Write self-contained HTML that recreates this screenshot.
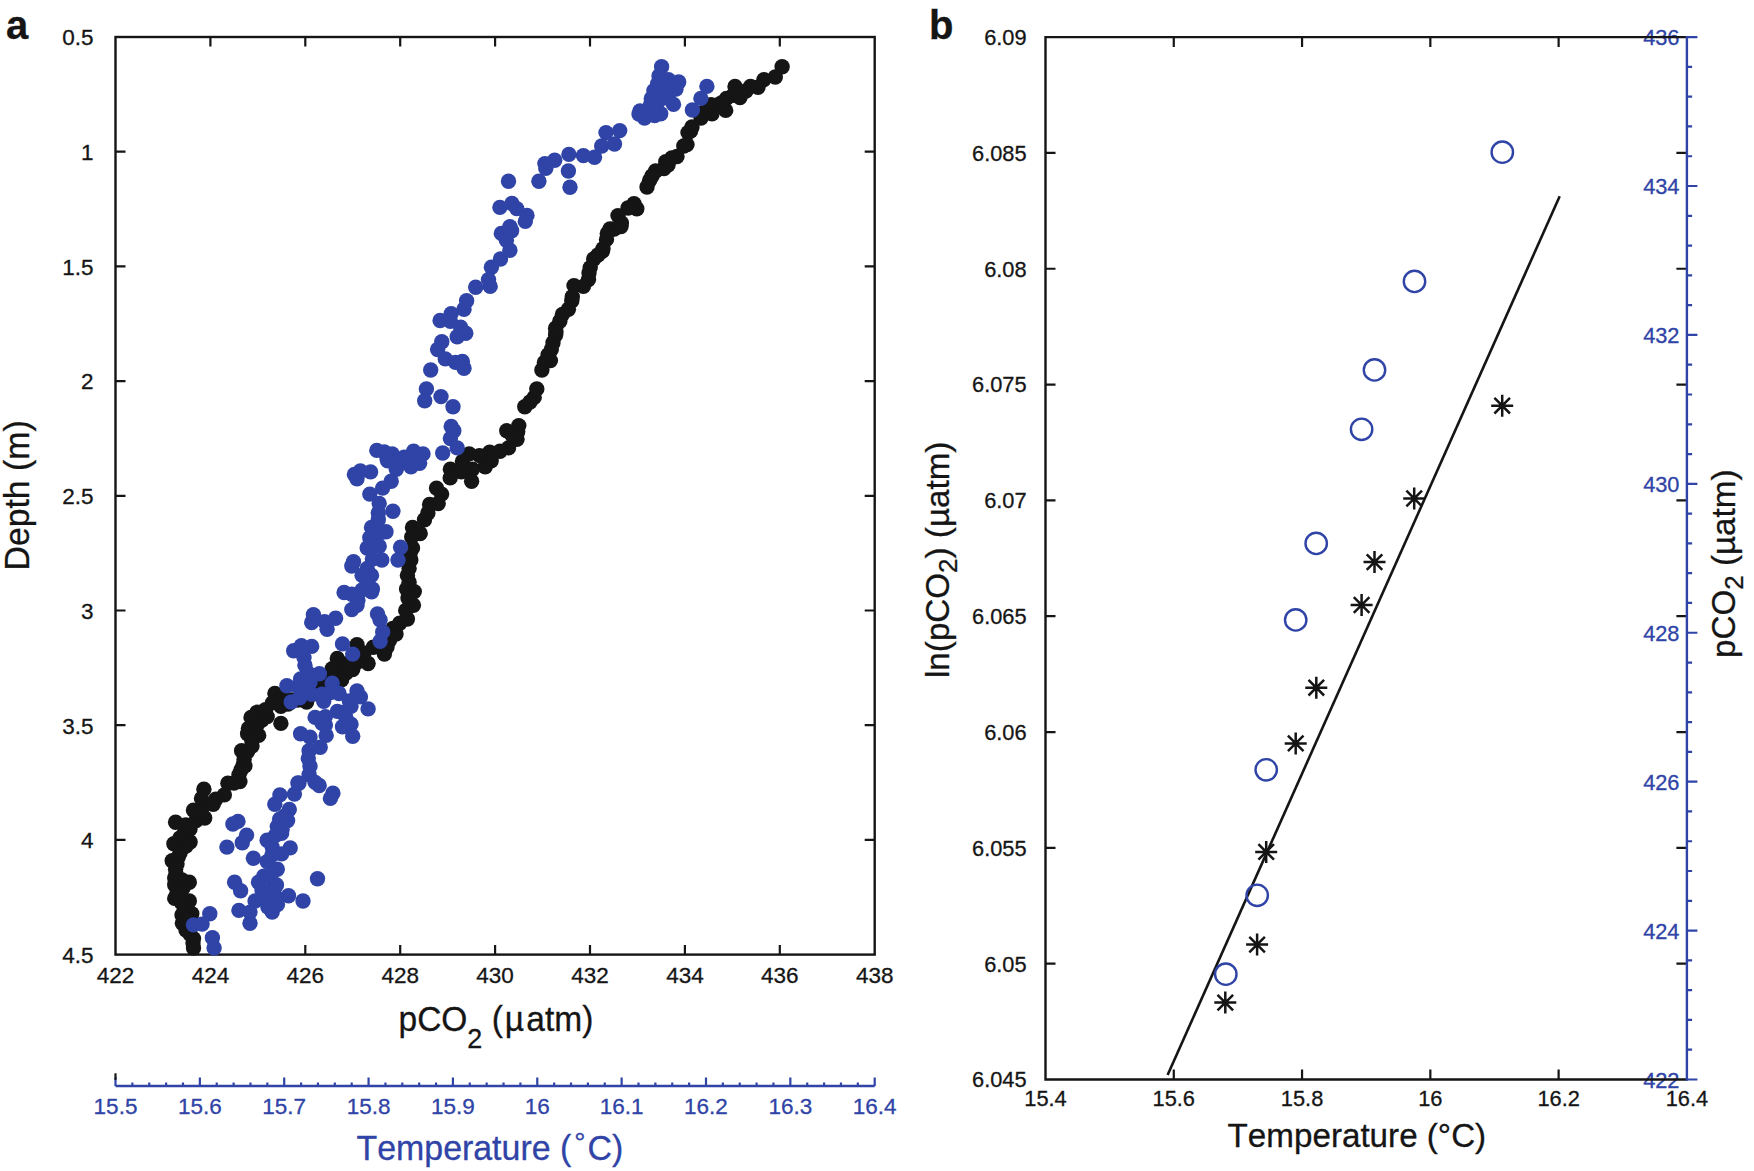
<!DOCTYPE html><html><head><meta charset="utf-8"><title>Figure</title>
<style>html,body{margin:0;padding:0;background:#fff}svg{display:block}text{font-family:"Liberation Sans",sans-serif;font-kerning:none}</style></head><body>
<svg width="1754" height="1171" viewBox="0 0 1754 1171">
<rect width="1754" height="1171" fill="#fff"/>
<g id="pa">
<rect x="115.5" y="37.0" width="759.2" height="917.6" fill="none" stroke="#151515" stroke-width="2.4"/>
<path d="M210.40 37.0v9.5M210.40 954.6v-9.5M305.30 37.0v9.5M305.30 954.6v-9.5M400.20 37.0v9.5M400.20 954.6v-9.5M495.10 37.0v9.5M495.10 954.6v-9.5M590.00 37.0v9.5M590.00 954.6v-9.5M684.90 37.0v9.5M684.90 954.6v-9.5M779.80 37.0v9.5M779.80 954.6v-9.5M115.5 151.70h10M874.7 151.70h-10M115.5 266.40h10M874.7 266.40h-10M115.5 381.10h10M874.7 381.10h-10M115.5 495.80h10M874.7 495.80h-10M115.5 610.50h10M874.7 610.50h-10M115.5 725.20h10M874.7 725.20h-10M115.5 839.90h10M874.7 839.90h-10" stroke="#151515" stroke-width="2.2" fill="none"/>
<g fill="#151515">
<circle cx="782.1" cy="66.8" r="7.7"/>
<circle cx="775.3" cy="77.0" r="7.7"/>
<circle cx="764.0" cy="79.6" r="7.7"/>
<circle cx="758.0" cy="87.3" r="7.7"/>
<circle cx="750.5" cy="86.4" r="7.7"/>
<circle cx="735.0" cy="86.4" r="7.7"/>
<circle cx="740.0" cy="97.5" r="7.7"/>
<circle cx="726.5" cy="98.4" r="7.7"/>
<circle cx="725.7" cy="110.4" r="7.7"/>
<circle cx="718.0" cy="105.0" r="7.7"/>
<circle cx="712.0" cy="113.8" r="7.7"/>
<circle cx="704.0" cy="112.0" r="7.7"/>
<circle cx="701.0" cy="118.0" r="7.7"/>
<circle cx="690.6" cy="131.0" r="7.7"/>
<circle cx="688.0" cy="132.6" r="7.7"/>
<circle cx="687.0" cy="144.6" r="7.7"/>
<circle cx="683.8" cy="146.0" r="7.7"/>
<circle cx="677.0" cy="156.5" r="7.7"/>
<circle cx="671.8" cy="158.0" r="7.7"/>
<circle cx="665.8" cy="161.7" r="7.7"/>
<circle cx="664.0" cy="168.5" r="7.7"/>
<circle cx="655.6" cy="171.0" r="7.7"/>
<circle cx="649.6" cy="180.5" r="7.7"/>
<circle cx="647.0" cy="187.0" r="7.7"/>
<circle cx="634.0" cy="203.6" r="7.7"/>
<circle cx="636.8" cy="208.7" r="7.7"/>
<circle cx="628.0" cy="208.0" r="7.7"/>
<circle cx="618.0" cy="215.6" r="7.7"/>
<circle cx="621.4" cy="223.0" r="7.7"/>
<circle cx="610.0" cy="229.0" r="7.7"/>
<circle cx="621.0" cy="226.6" r="7.7"/>
<circle cx="614.2" cy="229.0" r="7.7"/>
<circle cx="607.3" cy="233.4" r="7.7"/>
<circle cx="606.5" cy="239.4" r="7.7"/>
<circle cx="603.0" cy="248.8" r="7.7"/>
<circle cx="602.2" cy="251.4" r="7.7"/>
<circle cx="593.7" cy="259.0" r="7.7"/>
<circle cx="590.2" cy="267.6" r="7.7"/>
<circle cx="588.5" cy="279.6" r="7.7"/>
<circle cx="583.4" cy="286.4" r="7.7"/>
<circle cx="574.0" cy="285.6" r="7.7"/>
<circle cx="572.3" cy="296.7" r="7.7"/>
<circle cx="571.8" cy="300.8" r="7.7"/>
<circle cx="568.4" cy="309.3" r="7.7"/>
<circle cx="562.4" cy="314.5" r="7.7"/>
<circle cx="559.8" cy="321.3" r="7.7"/>
<circle cx="555.6" cy="328.2" r="7.7"/>
<circle cx="555.6" cy="335.0" r="7.7"/>
<circle cx="553.0" cy="342.7" r="7.7"/>
<circle cx="551.3" cy="349.5" r="7.7"/>
<circle cx="550.4" cy="360.6" r="7.7"/>
<circle cx="544.4" cy="362.4" r="7.7"/>
<circle cx="541.9" cy="370.0" r="7.7"/>
<circle cx="536.8" cy="388.9" r="7.7"/>
<circle cx="534.2" cy="397.4" r="7.7"/>
<circle cx="524.8" cy="406.8" r="7.7"/>
<circle cx="518.8" cy="425.6" r="7.7"/>
<circle cx="506.8" cy="430.8" r="7.7"/>
<circle cx="517.0" cy="439.3" r="7.7"/>
<circle cx="508.5" cy="447.9" r="7.7"/>
<circle cx="500.0" cy="451.3" r="7.7"/>
<circle cx="489.7" cy="452.1" r="7.7"/>
<circle cx="479.5" cy="455.6" r="7.7"/>
<circle cx="469.2" cy="453.9" r="7.7"/>
<circle cx="462.4" cy="461.5" r="7.7"/>
<circle cx="450.4" cy="469.2" r="7.7"/>
<circle cx="517.7" cy="431.7" r="7.7"/>
<circle cx="491.2" cy="460.8" r="7.7"/>
<circle cx="485.2" cy="466.8" r="7.7"/>
<circle cx="472.4" cy="469.3" r="7.7"/>
<circle cx="461.3" cy="471.9" r="7.7"/>
<circle cx="471.6" cy="481.3" r="7.7"/>
<circle cx="450.2" cy="477.9" r="7.7"/>
<circle cx="436.5" cy="488.1" r="7.7"/>
<circle cx="441.6" cy="494.1" r="7.7"/>
<circle cx="438.2" cy="503.5" r="7.7"/>
<circle cx="429.6" cy="504.4" r="7.7"/>
<circle cx="427.9" cy="513.0" r="7.7"/>
<circle cx="424.5" cy="519.8" r="7.7"/>
<circle cx="412.5" cy="527.5" r="7.7"/>
<circle cx="420.2" cy="533.5" r="7.7"/>
<circle cx="411.7" cy="536.9" r="7.7"/>
<circle cx="412.5" cy="548.0" r="7.7"/>
<circle cx="410.8" cy="560.0" r="7.7"/>
<circle cx="409.1" cy="568.5" r="7.7"/>
<circle cx="407.4" cy="575.4" r="7.7"/>
<circle cx="409.1" cy="582.2" r="7.7"/>
<circle cx="406.6" cy="589.0" r="7.7"/>
<circle cx="414.3" cy="591.6" r="7.7"/>
<circle cx="413.4" cy="605.3" r="7.7"/>
<circle cx="405.7" cy="610.4" r="7.7"/>
<circle cx="407.4" cy="619.0" r="7.7"/>
<circle cx="399.7" cy="623.3" r="7.7"/>
<circle cx="392.9" cy="628.4" r="7.7"/>
<circle cx="389.5" cy="640.5" r="7.7"/>
<circle cx="384.4" cy="654.1" r="7.7"/>
<circle cx="373.3" cy="647.3" r="7.7"/>
<circle cx="357.0" cy="644.7" r="7.7"/>
<circle cx="368.1" cy="663.5" r="7.7"/>
<circle cx="357.9" cy="661.8" r="7.7"/>
<circle cx="352.7" cy="669.5" r="7.7"/>
<circle cx="337.3" cy="658.4" r="7.7"/>
<circle cx="339.9" cy="667.0" r="7.7"/>
<circle cx="332.2" cy="668.7" r="7.7"/>
<circle cx="341.6" cy="679.8" r="7.7"/>
<circle cx="333.9" cy="675.5" r="7.7"/>
<circle cx="320.2" cy="685.8" r="7.7"/>
<circle cx="306.6" cy="702.0" r="7.7"/>
<circle cx="274.9" cy="693.5" r="7.7"/>
<circle cx="280.9" cy="706.3" r="7.7"/>
<circle cx="272.4" cy="702.9" r="7.7"/>
<circle cx="265.5" cy="709.7" r="7.7"/>
<circle cx="257.0" cy="712.3" r="7.7"/>
<circle cx="251.0" cy="717.4" r="7.7"/>
<circle cx="267.2" cy="716.6" r="7.7"/>
<circle cx="280.9" cy="723.4" r="7.7"/>
<circle cx="257.0" cy="725.1" r="7.7"/>
<circle cx="248.4" cy="728.5" r="7.7"/>
<circle cx="247.6" cy="733.7" r="7.7"/>
<circle cx="258.7" cy="735.4" r="7.7"/>
<circle cx="251.8" cy="740.5" r="7.7"/>
<circle cx="241.6" cy="750.8" r="7.7"/>
<circle cx="247.6" cy="751.6" r="7.7"/>
<circle cx="244.1" cy="759.3" r="7.7"/>
<circle cx="243.3" cy="764.4" r="7.7"/>
<circle cx="239.0" cy="774.7" r="7.7"/>
<circle cx="239.9" cy="781.6" r="7.7"/>
<circle cx="227.9" cy="783.3" r="7.7"/>
<circle cx="203.9" cy="789.3" r="7.7"/>
<circle cx="244.9" cy="765.9" r="7.7"/>
<circle cx="224.3" cy="794.9" r="7.7"/>
<circle cx="215.8" cy="799.2" r="7.7"/>
<circle cx="213.2" cy="804.3" r="7.7"/>
<circle cx="193.5" cy="810.3" r="7.7"/>
<circle cx="202.1" cy="807.8" r="7.7"/>
<circle cx="204.7" cy="818.0" r="7.7"/>
<circle cx="175.6" cy="822.3" r="7.7"/>
<circle cx="185.8" cy="824.9" r="7.7"/>
<circle cx="196.1" cy="820.6" r="7.7"/>
<circle cx="184.1" cy="833.4" r="7.7"/>
<circle cx="190.1" cy="842.0" r="7.7"/>
<circle cx="173.9" cy="843.7" r="7.7"/>
<circle cx="181.6" cy="848.8" r="7.7"/>
<circle cx="178.1" cy="857.4" r="7.7"/>
<circle cx="172.2" cy="860.8" r="7.7"/>
<circle cx="175.6" cy="869.3" r="7.7"/>
<circle cx="174.7" cy="877.9" r="7.7"/>
<circle cx="189.3" cy="882.2" r="7.7"/>
<circle cx="174.7" cy="884.7" r="7.7"/>
<circle cx="179.9" cy="890.7" r="7.7"/>
<circle cx="174.7" cy="898.4" r="7.7"/>
<circle cx="189.3" cy="901.0" r="7.7"/>
<circle cx="184.1" cy="907.0" r="7.7"/>
<circle cx="191.8" cy="913.8" r="7.7"/>
<circle cx="182.4" cy="923.2" r="7.7"/>
<circle cx="193.5" cy="938.6" r="7.7"/>
<circle cx="193.5" cy="948.0" r="7.7"/>
<circle cx="745.9" cy="91.0" r="7.7"/>
<circle cx="733.0" cy="95.4" r="7.7"/>
<circle cx="711.0" cy="104.6" r="7.7"/>
<circle cx="721.3" cy="103.0" r="7.7"/>
<circle cx="201.5" cy="798.5" r="7.7"/>
<circle cx="692.0" cy="127.0" r="7.7"/>
<circle cx="668.0" cy="165.0" r="7.7"/>
<circle cx="652.0" cy="176.0" r="7.7"/>
<circle cx="598.0" cy="255.0" r="7.7"/>
<circle cx="589.0" cy="273.0" r="7.7"/>
<circle cx="556.0" cy="332.0" r="7.7"/>
<circle cx="548.0" cy="355.0" r="7.7"/>
<circle cx="530.0" cy="402.0" r="7.7"/>
<circle cx="512.0" cy="435.0" r="7.7"/>
<circle cx="410.0" cy="554.0" r="7.7"/>
<circle cx="408.0" cy="598.0" r="7.7"/>
<circle cx="396.0" cy="634.0" r="7.7"/>
<circle cx="387.0" cy="647.0" r="7.7"/>
<circle cx="364.0" cy="653.0" r="7.7"/>
<circle cx="346.0" cy="673.0" r="7.7"/>
<circle cx="327.0" cy="680.0" r="7.7"/>
<circle cx="313.0" cy="694.0" r="7.7"/>
<circle cx="298.0" cy="700.0" r="7.7"/>
<circle cx="288.0" cy="704.0" r="7.7"/>
<circle cx="262.0" cy="720.0" r="7.7"/>
<circle cx="252.0" cy="746.0" r="7.7"/>
<circle cx="241.0" cy="770.0" r="7.7"/>
<circle cx="234.0" cy="783.0" r="7.7"/>
<circle cx="199.0" cy="813.0" r="7.7"/>
<circle cx="190.0" cy="829.0" r="7.7"/>
<circle cx="180.0" cy="853.0" r="7.7"/>
<circle cx="177.0" cy="864.0" r="7.7"/>
<circle cx="176.0" cy="874.0" r="7.7"/>
<circle cx="177.0" cy="893.0" r="7.7"/>
<circle cx="182.0" cy="915.0" r="7.7"/>
<circle cx="186.0" cy="930.0" r="7.7"/>
<circle cx="190.0" cy="934.0" r="7.7"/>
<circle cx="193.0" cy="943.0" r="7.7"/>
<circle cx="345.0" cy="664.0" r="7.7"/>
<circle cx="292.0" cy="700.0" r="7.7"/>
<circle cx="283.0" cy="697.0" r="7.7"/>
<circle cx="180.0" cy="838.0" r="7.7"/>
<circle cx="186.0" cy="846.0" r="7.7"/>
<circle cx="182.0" cy="880.0" r="7.7"/>
<circle cx="183.0" cy="888.0" r="7.7"/>
<circle cx="181.0" cy="902.0" r="7.7"/>
<circle cx="187.0" cy="920.0" r="7.7"/>
</g>
<g fill="#2f44a6">
<circle cx="661.6" cy="66.8" r="7.7"/>
<circle cx="659.0" cy="76.0" r="7.7"/>
<circle cx="668.4" cy="79.6" r="7.7"/>
<circle cx="678.7" cy="82.0" r="7.7"/>
<circle cx="676.0" cy="89.0" r="7.7"/>
<circle cx="666.7" cy="86.4" r="7.7"/>
<circle cx="653.9" cy="90.7" r="7.7"/>
<circle cx="659.9" cy="93.3" r="7.7"/>
<circle cx="651.3" cy="98.4" r="7.7"/>
<circle cx="658.0" cy="101.8" r="7.7"/>
<circle cx="668.4" cy="98.4" r="7.7"/>
<circle cx="673.5" cy="104.4" r="7.7"/>
<circle cx="640.0" cy="111.0" r="7.7"/>
<circle cx="639.0" cy="114.0" r="7.7"/>
<circle cx="649.6" cy="113.8" r="7.7"/>
<circle cx="660.7" cy="113.8" r="7.7"/>
<circle cx="644.5" cy="118.0" r="7.7"/>
<circle cx="654.7" cy="115.5" r="7.7"/>
<circle cx="706.9" cy="86.4" r="7.7"/>
<circle cx="700.9" cy="98.4" r="7.7"/>
<circle cx="692.4" cy="110.0" r="7.7"/>
<circle cx="619.7" cy="130.6" r="7.7"/>
<circle cx="606.0" cy="132.6" r="7.7"/>
<circle cx="614.5" cy="144.0" r="7.7"/>
<circle cx="601.7" cy="146.0" r="7.7"/>
<circle cx="594.5" cy="157.3" r="7.7"/>
<circle cx="583.4" cy="155.6" r="7.7"/>
<circle cx="568.9" cy="154.4" r="7.7"/>
<circle cx="554.7" cy="160.2" r="7.7"/>
<circle cx="544.9" cy="163.6" r="7.7"/>
<circle cx="545.8" cy="168.4" r="7.7"/>
<circle cx="568.4" cy="171.0" r="7.7"/>
<circle cx="538.9" cy="181.2" r="7.7"/>
<circle cx="570.0" cy="187.2" r="7.7"/>
<circle cx="508.5" cy="181.2" r="7.7"/>
<circle cx="499.9" cy="207.4" r="7.7"/>
<circle cx="511.9" cy="203.5" r="7.7"/>
<circle cx="516.7" cy="208.6" r="7.7"/>
<circle cx="527.0" cy="215.4" r="7.7"/>
<circle cx="525.3" cy="221.4" r="7.7"/>
<circle cx="509.9" cy="226.6" r="7.7"/>
<circle cx="511.6" cy="230.8" r="7.7"/>
<circle cx="501.3" cy="233.4" r="7.7"/>
<circle cx="506.4" cy="240.2" r="7.7"/>
<circle cx="509.9" cy="250.2" r="7.7"/>
<circle cx="500.5" cy="259.0" r="7.7"/>
<circle cx="491.4" cy="267.3" r="7.7"/>
<circle cx="488.5" cy="279.6" r="7.7"/>
<circle cx="490.2" cy="286.4" r="7.7"/>
<circle cx="475.7" cy="287.3" r="7.7"/>
<circle cx="466.6" cy="300.8" r="7.7"/>
<circle cx="464.0" cy="309.3" r="7.7"/>
<circle cx="451.2" cy="313.6" r="7.7"/>
<circle cx="440.1" cy="320.5" r="7.7"/>
<circle cx="450.4" cy="321.3" r="7.7"/>
<circle cx="460.6" cy="327.3" r="7.7"/>
<circle cx="465.8" cy="333.3" r="7.7"/>
<circle cx="457.2" cy="336.7" r="7.7"/>
<circle cx="441.8" cy="341.8" r="7.7"/>
<circle cx="437.6" cy="349.5" r="7.7"/>
<circle cx="445.3" cy="358.9" r="7.7"/>
<circle cx="455.5" cy="362.4" r="7.7"/>
<circle cx="462.4" cy="361.5" r="7.7"/>
<circle cx="464.0" cy="368.3" r="7.7"/>
<circle cx="430.7" cy="370.0" r="7.7"/>
<circle cx="426.4" cy="388.9" r="7.7"/>
<circle cx="424.7" cy="400.8" r="7.7"/>
<circle cx="441.0" cy="396.6" r="7.7"/>
<circle cx="453.0" cy="406.8" r="7.7"/>
<circle cx="451.2" cy="426.5" r="7.7"/>
<circle cx="453.8" cy="430.8" r="7.7"/>
<circle cx="450.4" cy="438.5" r="7.7"/>
<circle cx="457.2" cy="447.9" r="7.7"/>
<circle cx="442.7" cy="453.0" r="7.7"/>
<circle cx="423.0" cy="453.9" r="7.7"/>
<circle cx="413.6" cy="451.3" r="7.7"/>
<circle cx="404.2" cy="457.3" r="7.7"/>
<circle cx="392.2" cy="453.9" r="7.7"/>
<circle cx="376.8" cy="450.4" r="7.7"/>
<circle cx="387.1" cy="459.0" r="7.7"/>
<circle cx="419.6" cy="463.3" r="7.7"/>
<circle cx="397.4" cy="465.0" r="7.7"/>
<circle cx="411.0" cy="466.7" r="7.7"/>
<circle cx="387.7" cy="460.8" r="7.7"/>
<circle cx="406.6" cy="457.4" r="7.7"/>
<circle cx="399.7" cy="461.6" r="7.7"/>
<circle cx="416.8" cy="461.6" r="7.7"/>
<circle cx="396.3" cy="469.3" r="7.7"/>
<circle cx="370.6" cy="471.9" r="7.7"/>
<circle cx="360.4" cy="471.0" r="7.7"/>
<circle cx="354.4" cy="474.5" r="7.7"/>
<circle cx="357.0" cy="478.7" r="7.7"/>
<circle cx="391.2" cy="481.3" r="7.7"/>
<circle cx="382.6" cy="488.1" r="7.7"/>
<circle cx="369.8" cy="494.1" r="7.7"/>
<circle cx="379.2" cy="503.5" r="7.7"/>
<circle cx="392.9" cy="511.2" r="7.7"/>
<circle cx="378.3" cy="513.0" r="7.7"/>
<circle cx="378.3" cy="519.8" r="7.7"/>
<circle cx="371.5" cy="527.5" r="7.7"/>
<circle cx="386.0" cy="531.8" r="7.7"/>
<circle cx="369.8" cy="537.7" r="7.7"/>
<circle cx="379.2" cy="546.3" r="7.7"/>
<circle cx="367.2" cy="548.0" r="7.7"/>
<circle cx="400.6" cy="547.2" r="7.7"/>
<circle cx="398.0" cy="560.0" r="7.7"/>
<circle cx="381.8" cy="560.0" r="7.7"/>
<circle cx="372.4" cy="559.1" r="7.7"/>
<circle cx="353.5" cy="561.7" r="7.7"/>
<circle cx="351.8" cy="566.0" r="7.7"/>
<circle cx="367.2" cy="568.5" r="7.7"/>
<circle cx="362.1" cy="575.4" r="7.7"/>
<circle cx="371.5" cy="575.4" r="7.7"/>
<circle cx="367.2" cy="582.2" r="7.7"/>
<circle cx="372.4" cy="589.0" r="7.7"/>
<circle cx="362.1" cy="589.9" r="7.7"/>
<circle cx="344.1" cy="592.5" r="7.7"/>
<circle cx="351.8" cy="594.2" r="7.7"/>
<circle cx="357.0" cy="605.3" r="7.7"/>
<circle cx="351.8" cy="609.6" r="7.7"/>
<circle cx="377.5" cy="613.9" r="7.7"/>
<circle cx="380.1" cy="619.9" r="7.7"/>
<circle cx="313.4" cy="614.8" r="7.7"/>
<circle cx="335.6" cy="618.2" r="7.7"/>
<circle cx="324.5" cy="621.6" r="7.7"/>
<circle cx="311.7" cy="622.5" r="7.7"/>
<circle cx="327.1" cy="629.3" r="7.7"/>
<circle cx="382.7" cy="631.9" r="7.7"/>
<circle cx="380.1" cy="641.3" r="7.7"/>
<circle cx="371.6" cy="591.7" r="7.7"/>
<circle cx="357.9" cy="600.3" r="7.7"/>
<circle cx="342.5" cy="643.9" r="7.7"/>
<circle cx="352.7" cy="654.1" r="7.7"/>
<circle cx="301.4" cy="645.6" r="7.7"/>
<circle cx="311.7" cy="646.4" r="7.7"/>
<circle cx="293.7" cy="650.7" r="7.7"/>
<circle cx="304.0" cy="657.6" r="7.7"/>
<circle cx="304.9" cy="665.3" r="7.7"/>
<circle cx="307.4" cy="672.1" r="7.7"/>
<circle cx="319.4" cy="673.8" r="7.7"/>
<circle cx="300.6" cy="678.9" r="7.7"/>
<circle cx="286.9" cy="685.8" r="7.7"/>
<circle cx="298.0" cy="686.6" r="7.7"/>
<circle cx="310.0" cy="682.4" r="7.7"/>
<circle cx="332.2" cy="683.2" r="7.7"/>
<circle cx="330.5" cy="692.6" r="7.7"/>
<circle cx="339.1" cy="693.5" r="7.7"/>
<circle cx="357.0" cy="690.9" r="7.7"/>
<circle cx="360.4" cy="696.9" r="7.7"/>
<circle cx="368.1" cy="708.9" r="7.7"/>
<circle cx="351.0" cy="706.3" r="7.7"/>
<circle cx="323.7" cy="701.2" r="7.7"/>
<circle cx="311.7" cy="694.3" r="7.7"/>
<circle cx="291.2" cy="702.0" r="7.7"/>
<circle cx="299.7" cy="697.7" r="7.7"/>
<circle cx="337.3" cy="711.4" r="7.7"/>
<circle cx="315.1" cy="717.4" r="7.7"/>
<circle cx="325.4" cy="716.6" r="7.7"/>
<circle cx="345.9" cy="717.4" r="7.7"/>
<circle cx="351.0" cy="724.3" r="7.7"/>
<circle cx="342.5" cy="726.8" r="7.7"/>
<circle cx="352.7" cy="736.2" r="7.7"/>
<circle cx="325.4" cy="725.1" r="7.7"/>
<circle cx="300.6" cy="733.7" r="7.7"/>
<circle cx="310.0" cy="737.1" r="7.7"/>
<circle cx="326.2" cy="735.4" r="7.7"/>
<circle cx="320.2" cy="747.3" r="7.7"/>
<circle cx="309.1" cy="750.8" r="7.7"/>
<circle cx="308.3" cy="758.5" r="7.7"/>
<circle cx="310.0" cy="766.2" r="7.7"/>
<circle cx="309.1" cy="774.7" r="7.7"/>
<circle cx="298.9" cy="783.3" r="7.7"/>
<circle cx="315.1" cy="782.4" r="7.7"/>
<circle cx="319.2" cy="785.5" r="7.7"/>
<circle cx="332.9" cy="793.2" r="7.7"/>
<circle cx="330.4" cy="798.4" r="7.7"/>
<circle cx="294.4" cy="794.1" r="7.7"/>
<circle cx="279.9" cy="794.9" r="7.7"/>
<circle cx="274.8" cy="804.3" r="7.7"/>
<circle cx="289.3" cy="809.5" r="7.7"/>
<circle cx="284.2" cy="816.3" r="7.7"/>
<circle cx="287.6" cy="820.6" r="7.7"/>
<circle cx="277.3" cy="826.6" r="7.7"/>
<circle cx="281.6" cy="833.4" r="7.7"/>
<circle cx="238.0" cy="821.4" r="7.7"/>
<circle cx="232.9" cy="824.0" r="7.7"/>
<circle cx="246.6" cy="835.1" r="7.7"/>
<circle cx="242.3" cy="842.8" r="7.7"/>
<circle cx="226.9" cy="847.1" r="7.7"/>
<circle cx="267.1" cy="840.3" r="7.7"/>
<circle cx="272.2" cy="847.1" r="7.7"/>
<circle cx="290.2" cy="847.9" r="7.7"/>
<circle cx="281.6" cy="853.9" r="7.7"/>
<circle cx="253.4" cy="858.2" r="7.7"/>
<circle cx="267.1" cy="861.6" r="7.7"/>
<circle cx="277.3" cy="869.3" r="7.7"/>
<circle cx="263.7" cy="876.2" r="7.7"/>
<circle cx="317.5" cy="878.7" r="7.7"/>
<circle cx="258.5" cy="882.2" r="7.7"/>
<circle cx="273.9" cy="884.7" r="7.7"/>
<circle cx="234.6" cy="882.2" r="7.7"/>
<circle cx="240.6" cy="890.7" r="7.7"/>
<circle cx="265.4" cy="891.6" r="7.7"/>
<circle cx="288.5" cy="895.8" r="7.7"/>
<circle cx="303.0" cy="901.0" r="7.7"/>
<circle cx="255.1" cy="901.0" r="7.7"/>
<circle cx="273.9" cy="901.8" r="7.7"/>
<circle cx="267.9" cy="907.0" r="7.7"/>
<circle cx="272.2" cy="912.1" r="7.7"/>
<circle cx="238.9" cy="910.4" r="7.7"/>
<circle cx="250.0" cy="912.1" r="7.7"/>
<circle cx="250.0" cy="923.2" r="7.7"/>
<circle cx="209.8" cy="913.8" r="7.7"/>
<circle cx="193.5" cy="924.9" r="7.7"/>
<circle cx="202.1" cy="924.1" r="7.7"/>
<circle cx="212.4" cy="937.7" r="7.7"/>
<circle cx="214.1" cy="948.0" r="7.7"/>
<circle cx="297.9" cy="783.0" r="7.7"/>
<circle cx="384.3" cy="451.9" r="7.7"/>
<circle cx="276.5" cy="885.0" r="7.7"/>
<circle cx="277.5" cy="904.5" r="7.7"/>
<circle cx="262.4" cy="897.9" r="7.7"/>
<circle cx="271.0" cy="875.7" r="7.7"/>
<circle cx="262.0" cy="890.0" r="7.7"/>
<circle cx="276.0" cy="897.0" r="7.7"/>
<circle cx="270.0" cy="898.0" r="7.7"/>
<circle cx="279.6" cy="819.3" r="7.7"/>
<circle cx="275.3" cy="835.6" r="7.7"/>
<circle cx="282.1" cy="829.6" r="7.7"/>
<circle cx="272.0" cy="855.0" r="7.7"/>
<circle cx="650.5" cy="104.5" r="7.7"/>
<circle cx="657.5" cy="84.0" r="7.7"/>
<circle cx="349.4" cy="700.9" r="7.7"/>
<circle cx="342.5" cy="712.5" r="7.7"/>
<circle cx="380.9" cy="532.6" r="7.7"/>
<circle cx="306.6" cy="685.8" r="7.7"/>
<circle cx="322.0" cy="694.3" r="7.7"/>
<circle cx="303.1" cy="692.6" r="7.7"/>
<circle cx="322.0" cy="723.4" r="7.7"/>
</g>
<text transform="translate(93.50 45.30) scale(1 1.02)" font-size="22.5" fill="#151515" stroke="#151515" stroke-width="0.3" text-anchor="end">0.5</text>
<text transform="translate(93.50 160.00) scale(1 1.02)" font-size="22.5" fill="#151515" stroke="#151515" stroke-width="0.3" text-anchor="end">1</text>
<text transform="translate(93.50 274.70) scale(1 1.02)" font-size="22.5" fill="#151515" stroke="#151515" stroke-width="0.3" text-anchor="end">1.5</text>
<text transform="translate(93.50 389.40) scale(1 1.02)" font-size="22.5" fill="#151515" stroke="#151515" stroke-width="0.3" text-anchor="end">2</text>
<text transform="translate(93.50 504.10) scale(1 1.02)" font-size="22.5" fill="#151515" stroke="#151515" stroke-width="0.3" text-anchor="end">2.5</text>
<text transform="translate(93.50 618.80) scale(1 1.02)" font-size="22.5" fill="#151515" stroke="#151515" stroke-width="0.3" text-anchor="end">3</text>
<text transform="translate(93.50 733.50) scale(1 1.02)" font-size="22.5" fill="#151515" stroke="#151515" stroke-width="0.3" text-anchor="end">3.5</text>
<text transform="translate(93.50 848.20) scale(1 1.02)" font-size="22.5" fill="#151515" stroke="#151515" stroke-width="0.3" text-anchor="end">4</text>
<text transform="translate(93.50 962.90) scale(1 1.02)" font-size="22.5" fill="#151515" stroke="#151515" stroke-width="0.3" text-anchor="end">4.5</text>
<text transform="translate(115.50 982.50) scale(1 1.02)" font-size="22.5" fill="#151515" stroke="#151515" stroke-width="0.3" text-anchor="middle">422</text>
<text transform="translate(210.40 982.50) scale(1 1.02)" font-size="22.5" fill="#151515" stroke="#151515" stroke-width="0.3" text-anchor="middle">424</text>
<text transform="translate(305.30 982.50) scale(1 1.02)" font-size="22.5" fill="#151515" stroke="#151515" stroke-width="0.3" text-anchor="middle">426</text>
<text transform="translate(400.20 982.50) scale(1 1.02)" font-size="22.5" fill="#151515" stroke="#151515" stroke-width="0.3" text-anchor="middle">428</text>
<text transform="translate(495.10 982.50) scale(1 1.02)" font-size="22.5" fill="#151515" stroke="#151515" stroke-width="0.3" text-anchor="middle">430</text>
<text transform="translate(590.00 982.50) scale(1 1.02)" font-size="22.5" fill="#151515" stroke="#151515" stroke-width="0.3" text-anchor="middle">432</text>
<text transform="translate(684.90 982.50) scale(1 1.02)" font-size="22.5" fill="#151515" stroke="#151515" stroke-width="0.3" text-anchor="middle">434</text>
<text transform="translate(779.80 982.50) scale(1 1.02)" font-size="22.5" fill="#151515" stroke="#151515" stroke-width="0.3" text-anchor="middle">436</text>
<text transform="translate(874.70 982.50) scale(1 1.02)" font-size="22.5" fill="#151515" stroke="#151515" stroke-width="0.3" text-anchor="middle">438</text>
<text transform="translate(29.00 570.50) rotate(-90) scale(1 1.02)" font-size="33.8" fill="#151515" stroke="#151515" stroke-width="0.3">Depth (m)</text>
<text transform="translate(398.50 1031.00) scale(1 1.02)" font-size="33.5" fill="#151515" stroke="#151515" stroke-width="0.3">pCO<tspan font-size="27" dy="16.5">2</tspan><tspan dy="-16.5"> (</tspan><tspan dx="2">µ</tspan><tspan dx="2.2">atm)</tspan></text>
<text transform="translate(6.00 39.00) scale(1 1.0)" font-size="40" fill="#151515" stroke="#151515" stroke-width="0.3" font-weight="bold">a</text>
<path d="M115.5 1086.0H874.7" stroke="#2f44a6" stroke-width="2.6" fill="none"/>
<path d="M115.50 1086.0v-8.5M132.37 1086.0v-3.6M149.24 1086.0v-3.6M166.11 1086.0v-3.6M182.98 1086.0v-3.6M199.86 1086.0v-8.5M216.73 1086.0v-3.6M233.60 1086.0v-3.6M250.47 1086.0v-3.6M267.34 1086.0v-3.6M284.21 1086.0v-8.5M301.08 1086.0v-3.6M317.95 1086.0v-3.6M334.82 1086.0v-3.6M351.70 1086.0v-3.6M368.57 1086.0v-8.5M385.44 1086.0v-3.6M402.31 1086.0v-3.6M419.18 1086.0v-3.6M436.05 1086.0v-3.6M452.92 1086.0v-8.5M469.79 1086.0v-3.6M486.66 1086.0v-3.6M503.54 1086.0v-3.6M520.41 1086.0v-3.6M537.28 1086.0v-8.5M554.15 1086.0v-3.6M571.02 1086.0v-3.6M587.89 1086.0v-3.6M604.76 1086.0v-3.6M621.63 1086.0v-8.5M638.50 1086.0v-3.6M655.38 1086.0v-3.6M672.25 1086.0v-3.6M689.12 1086.0v-3.6M705.99 1086.0v-8.5M722.86 1086.0v-3.6M739.73 1086.0v-3.6M756.60 1086.0v-3.6M773.47 1086.0v-3.6M790.34 1086.0v-8.5M807.22 1086.0v-3.6M824.09 1086.0v-3.6M840.96 1086.0v-3.6M857.83 1086.0v-3.6M874.70 1086.0v-8.5" stroke="#2f44a6" stroke-width="2.2" fill="none"/>
<path d="M115.5 1073.3v6.5" stroke="#151515" stroke-width="2.2" fill="none"/>
<text transform="translate(115.50 1113.60) scale(1 1.02)" font-size="22.5" fill="#2f44a6" stroke="#2f44a6" stroke-width="0.3" text-anchor="middle">15.5</text>
<text transform="translate(199.86 1113.60) scale(1 1.02)" font-size="22.5" fill="#2f44a6" stroke="#2f44a6" stroke-width="0.3" text-anchor="middle">15.6</text>
<text transform="translate(284.21 1113.60) scale(1 1.02)" font-size="22.5" fill="#2f44a6" stroke="#2f44a6" stroke-width="0.3" text-anchor="middle">15.7</text>
<text transform="translate(368.57 1113.60) scale(1 1.02)" font-size="22.5" fill="#2f44a6" stroke="#2f44a6" stroke-width="0.3" text-anchor="middle">15.8</text>
<text transform="translate(452.92 1113.60) scale(1 1.02)" font-size="22.5" fill="#2f44a6" stroke="#2f44a6" stroke-width="0.3" text-anchor="middle">15.9</text>
<text transform="translate(537.28 1113.60) scale(1 1.02)" font-size="22.5" fill="#2f44a6" stroke="#2f44a6" stroke-width="0.3" text-anchor="middle">16</text>
<text transform="translate(621.63 1113.60) scale(1 1.02)" font-size="22.5" fill="#2f44a6" stroke="#2f44a6" stroke-width="0.3" text-anchor="middle">16.1</text>
<text transform="translate(705.99 1113.60) scale(1 1.02)" font-size="22.5" fill="#2f44a6" stroke="#2f44a6" stroke-width="0.3" text-anchor="middle">16.2</text>
<text transform="translate(790.34 1113.60) scale(1 1.02)" font-size="22.5" fill="#2f44a6" stroke="#2f44a6" stroke-width="0.3" text-anchor="middle">16.3</text>
<text transform="translate(874.70 1113.60) scale(1 1.02)" font-size="22.5" fill="#2f44a6" stroke="#2f44a6" stroke-width="0.3" text-anchor="middle">16.4</text>
<text transform="translate(356.50 1159.90) scale(1 1.02)" font-size="33.9" fill="#2f44a6" stroke="#2f44a6" stroke-width="0.3">Temperature (<tspan font-size="28" dy="-7.3" dx="3">°</tspan><tspan dy="7.3" dx="2">C)</tspan></text>
</g>
<g id="pb">
<text transform="translate(1679.50 45.10) scale(1 1.0)" font-size="21.8" fill="#2f44a6" stroke="#2f44a6" stroke-width="0.3" text-anchor="end">436</text>
<text transform="translate(1679.50 194.01) scale(1 1.0)" font-size="21.8" fill="#2f44a6" stroke="#2f44a6" stroke-width="0.3" text-anchor="end">434</text>
<text transform="translate(1679.50 342.93) scale(1 1.0)" font-size="21.8" fill="#2f44a6" stroke="#2f44a6" stroke-width="0.3" text-anchor="end">432</text>
<text transform="translate(1679.50 491.84) scale(1 1.0)" font-size="21.8" fill="#2f44a6" stroke="#2f44a6" stroke-width="0.3" text-anchor="end">430</text>
<text transform="translate(1679.50 640.76) scale(1 1.0)" font-size="21.8" fill="#2f44a6" stroke="#2f44a6" stroke-width="0.3" text-anchor="end">428</text>
<text transform="translate(1679.50 789.67) scale(1 1.0)" font-size="21.8" fill="#2f44a6" stroke="#2f44a6" stroke-width="0.3" text-anchor="end">426</text>
<text transform="translate(1679.50 938.59) scale(1 1.0)" font-size="21.8" fill="#2f44a6" stroke="#2f44a6" stroke-width="0.3" text-anchor="end">424</text>
<text transform="translate(1679.50 1087.50) scale(1 1.0)" font-size="21.8" fill="#2f44a6" stroke="#2f44a6" stroke-width="0.3" text-anchor="end">422</text>
<path d="M1167.6 1075L1559.7 196.2" stroke="#151515" stroke-width="2.6" fill="none"/>
<path d="M1491.2 405.7h22M1502.2 394.7v22M1494.4 397.9l15.6 15.6M1494.4 413.5l15.6 -15.6M1403.2 498.5h22M1414.2 487.5v22M1406.4 490.7l15.6 15.6M1406.4 506.3l15.6 -15.6M1363.5 562.1h22M1374.5 551.1v22M1366.7 554.3l15.6 15.6M1366.7 569.9l15.6 -15.6M1350.6 605.0h22M1361.6 594.0v22M1353.8 597.2l15.6 15.6M1353.8 612.8l15.6 -15.6M1305.3 687.7h22M1316.3 676.7v22M1308.5 679.9l15.6 15.6M1308.5 695.5l15.6 -15.6M1284.7 743.4h22M1295.7 732.4v22M1287.9 735.6l15.6 15.6M1287.9 751.2l15.6 -15.6M1255.2 851.9h22M1266.2 840.9v22M1258.4 844.1l15.6 15.6M1258.4 859.7l15.6 -15.6M1246.1 944.6h22M1257.1 933.6v22M1249.3 936.8l15.6 15.6M1249.3 952.4l15.6 -15.6M1214.3 1002.6h22M1225.3 991.6v22M1217.5 994.8l15.6 15.6M1217.5 1010.4l15.6 -15.6" stroke="#151515" stroke-width="2.5" fill="none"/>
<g fill="none" stroke="#2f44a6" stroke-width="2.4">
<circle cx="1502.3" cy="152.2" r="10.7"/>
<circle cx="1414.5" cy="281.4" r="10.7"/>
<circle cx="1374.5" cy="369.9" r="10.7"/>
<circle cx="1361.6" cy="429.3" r="10.7"/>
<circle cx="1316.2" cy="543.4" r="10.7"/>
<circle cx="1295.7" cy="619.9" r="10.7"/>
<circle cx="1266.2" cy="769.8" r="10.7"/>
<circle cx="1257.2" cy="895.3" r="10.7"/>
<circle cx="1225.8" cy="974.2" r="10.7"/>
</g>
<path d="M1686.9 37.1H1045.5V1079.5H1686.9" stroke="#151515" stroke-width="2.4" fill="none"/>
<path d="M1173.78 37.1v10M1173.78 1079.5v-10M1302.06 37.1v10M1302.06 1079.5v-10M1430.34 37.1v10M1430.34 1079.5v-10M1558.62 37.1v10M1558.62 1079.5v-10M1045.5 152.92h10M1686.9 152.92h-10.5M1045.5 268.74h10M1686.9 268.74h-10.5M1045.5 384.57h10M1686.9 384.57h-10.5M1045.5 500.39h10M1686.9 500.39h-10.5M1045.5 616.21h10M1686.9 616.21h-10.5M1045.5 732.03h10M1686.9 732.03h-10.5M1045.5 847.86h10M1686.9 847.86h-10.5M1045.5 963.68h10M1686.9 963.68h-10.5" stroke="#151515" stroke-width="2.2" fill="none"/>
<path d="M1686.9 35.9V1080.7" stroke="#2f44a6" stroke-width="2.4" fill="none"/>
<path d="M1686.9 37.10h10.5M1686.9 66.88h5.2M1686.9 96.67h5.2M1686.9 126.45h5.2M1686.9 156.23h5.2M1686.9 186.01h10.5M1686.9 215.80h5.2M1686.9 245.58h5.2M1686.9 275.36h5.2M1686.9 305.15h5.2M1686.9 334.93h10.5M1686.9 364.71h5.2M1686.9 394.49h5.2M1686.9 424.28h5.2M1686.9 454.06h5.2M1686.9 483.84h10.5M1686.9 513.63h5.2M1686.9 543.41h5.2M1686.9 573.19h5.2M1686.9 602.97h5.2M1686.9 632.76h10.5M1686.9 662.54h5.2M1686.9 692.32h5.2M1686.9 722.11h5.2M1686.9 751.89h5.2M1686.9 781.67h10.5M1686.9 811.45h5.2M1686.9 841.24h5.2M1686.9 871.02h5.2M1686.9 900.80h5.2M1686.9 930.59h10.5M1686.9 960.37h5.2M1686.9 990.15h5.2M1686.9 1019.93h5.2M1686.9 1049.72h5.2M1686.9 1079.50h10.5" stroke="#2f44a6" stroke-width="2.2" fill="none"/>
<text transform="translate(1026.60 45.00) scale(1 1.0)" font-size="21.8" fill="#151515" stroke="#151515" stroke-width="0.3" text-anchor="end">6.09</text>
<text transform="translate(1026.60 160.82) scale(1 1.0)" font-size="21.8" fill="#151515" stroke="#151515" stroke-width="0.3" text-anchor="end">6.085</text>
<text transform="translate(1026.60 276.64) scale(1 1.0)" font-size="21.8" fill="#151515" stroke="#151515" stroke-width="0.3" text-anchor="end">6.08</text>
<text transform="translate(1026.60 392.47) scale(1 1.0)" font-size="21.8" fill="#151515" stroke="#151515" stroke-width="0.3" text-anchor="end">6.075</text>
<text transform="translate(1026.60 508.29) scale(1 1.0)" font-size="21.8" fill="#151515" stroke="#151515" stroke-width="0.3" text-anchor="end">6.07</text>
<text transform="translate(1026.60 624.11) scale(1 1.0)" font-size="21.8" fill="#151515" stroke="#151515" stroke-width="0.3" text-anchor="end">6.065</text>
<text transform="translate(1026.60 739.93) scale(1 1.0)" font-size="21.8" fill="#151515" stroke="#151515" stroke-width="0.3" text-anchor="end">6.06</text>
<text transform="translate(1026.60 855.76) scale(1 1.0)" font-size="21.8" fill="#151515" stroke="#151515" stroke-width="0.3" text-anchor="end">6.055</text>
<text transform="translate(1026.60 971.58) scale(1 1.0)" font-size="21.8" fill="#151515" stroke="#151515" stroke-width="0.3" text-anchor="end">6.05</text>
<text transform="translate(1026.60 1087.40) scale(1 1.0)" font-size="21.8" fill="#151515" stroke="#151515" stroke-width="0.3" text-anchor="end">6.045</text>
<text transform="translate(1045.50 1106.40) scale(1 1.0)" font-size="21.8" fill="#151515" stroke="#151515" stroke-width="0.3" text-anchor="middle">15.4</text>
<text transform="translate(1173.78 1106.40) scale(1 1.0)" font-size="21.8" fill="#151515" stroke="#151515" stroke-width="0.3" text-anchor="middle">15.6</text>
<text transform="translate(1302.06 1106.40) scale(1 1.0)" font-size="21.8" fill="#151515" stroke="#151515" stroke-width="0.3" text-anchor="middle">15.8</text>
<text transform="translate(1430.34 1106.40) scale(1 1.0)" font-size="21.8" fill="#151515" stroke="#151515" stroke-width="0.3" text-anchor="middle">16</text>
<text transform="translate(1558.62 1106.40) scale(1 1.0)" font-size="21.8" fill="#151515" stroke="#151515" stroke-width="0.3" text-anchor="middle">16.2</text>
<text transform="translate(1686.90 1106.40) scale(1 1.0)" font-size="21.8" fill="#151515" stroke="#151515" stroke-width="0.3" text-anchor="middle">16.4</text>
<text transform="translate(1227.60 1146.90) scale(1 1.0)" font-size="33.2" fill="#151515" stroke="#151515" stroke-width="0.3">Temperature (°C)</text>
<text transform="translate(949.20 678.00) rotate(-90) scale(1 1.0)" font-size="33.2" fill="#151515" stroke="#151515" stroke-width="0.3">ln(pCO<tspan font-size="26" dy="7.8">2</tspan><tspan dy="-7.8">) (µatm)</tspan></text>
<text transform="translate(1735.00 658.00) rotate(-90) scale(1 1.0)" font-size="33.2" fill="#151515" stroke="#151515" stroke-width="0.3">pCO<tspan font-size="26" dy="7.8">2</tspan><tspan dy="-7.8"> (µatm)</tspan></text>
<text transform="translate(929.00 39.00) scale(1 1.0)" font-size="40" fill="#151515" stroke="#151515" stroke-width="0.3" font-weight="bold">b</text>
</g>
</svg></body></html>
